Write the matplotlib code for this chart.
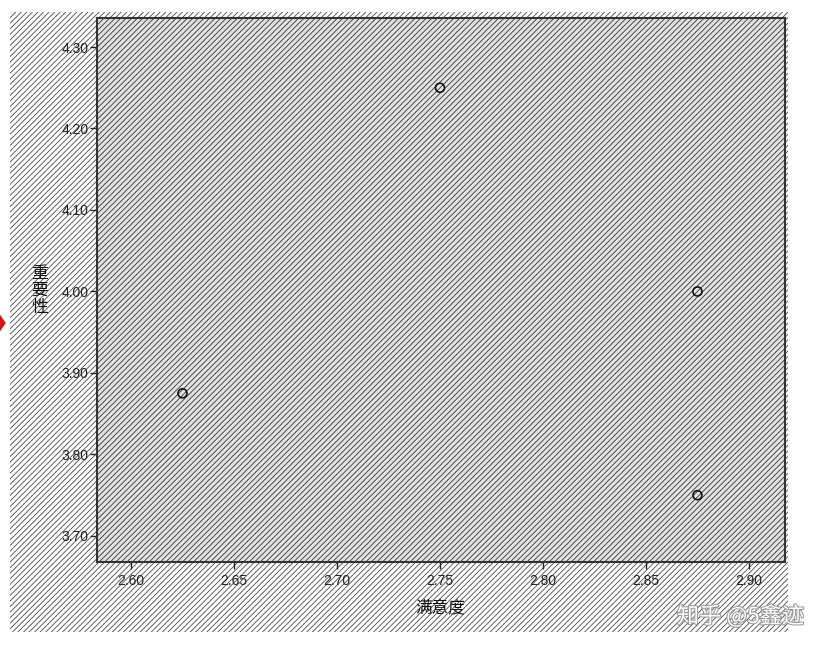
import matplotlib
matplotlib.use("Agg")
import matplotlib.pyplot as plt
from matplotlib.patches import Rectangle, Polygon
import matplotlib.patheffects as pe

# ---------- данные ----------
satisfaction = [2.625, 2.75, 2.875, 2.875]   # 满意度
importance = [3.875, 4.25, 4.00, 3.75]       # 重要性
x_ticks = [2.60, 2.65, 2.70, 2.75, 2.80, 2.85, 2.90]
y_ticks = [3.70, 3.80, 3.90, 4.00, 4.10, 4.20, 4.30]
# ----------------------------

plt.rcParams["font.family"] = ["Liberation Sans", "Noto Sans CJK SC", "DejaVu Sans"]
plt.rcParams["hatch.linewidth"] = 0.6

fig = plt.figure(figsize=(8.32, 6.5), dpi=100)
fig.patch.set_facecolor("white")

# заштрихованный фон всей диаграммы (как в SPSS)
bg = Rectangle((0.012, 0.0277), 0.935, 0.9538, transform=fig.transFigure,
               facecolor="white", edgecolor="#4a4a4a", hatch="//////",
               linewidth=0, zorder=-10)
fig.patches.append(bg)

ax = fig.add_axes([0.1166, 0.1354, 0.8269, 0.8369])
ax.patch.set_facecolor("#e2e2e2")
ax.patch.set_edgecolor("#333333")
ax.patch.set_hatch("//////")
ax.patch.set_linewidth(0)

ax.scatter(satisfaction, importance, s=42, facecolors="none",
           edgecolors="#111111", linewidths=1.2, zorder=3)

ax.set_xlim(2.5835, 2.9175)
ax.set_ylim(3.668, 4.3356)
ax.set_xticks(x_ticks)
ax.set_xticklabels([f"{t:.2f}" for t in x_ticks])
ax.set_yticks(y_ticks)
ax.set_yticklabels([f"{t:.2f}" for t in y_ticks])
ax.tick_params(direction="out", length=5, width=1, colors="#222222",
               labelsize=10)
ax.tick_params(axis="x", pad=4)
ax.tick_params(axis="y", pad=1)

for sp in ax.spines.values():
    sp.set_color("#333333")
    sp.set_linewidth(1.5)

fig.text(0.048, 0.553, "重\n要\n性", ha="center", va="center",
         fontsize=12, family=["Noto Sans CJK SC"], linespacing=1.0,
         color="#111111")
fig.text(0.529, 0.064, "满意度", ha="center", va="center",
         fontsize=12, family=["Noto Sans CJK SC"], color="#111111")

# водяной знак
fig.text(0.89, 0.052, "知乎 @5鑫迹", ha="center", va="center", fontsize=16,
         family=["Noto Sans CJK SC", "DejaVu Sans"], color="white",
         path_effects=[pe.withStroke(linewidth=1.5, foreground="#9a9a9a")])

# красная стрелка слева
arrow = Polygon([[0.0, 0.516], [0.007, 0.503], [0.0, 0.490]], closed=True,
                transform=fig.transFigure, facecolor="#e01010",
                edgecolor="none")
fig.patches.append(arrow)

fig.savefig("out.png", dpi=100)
